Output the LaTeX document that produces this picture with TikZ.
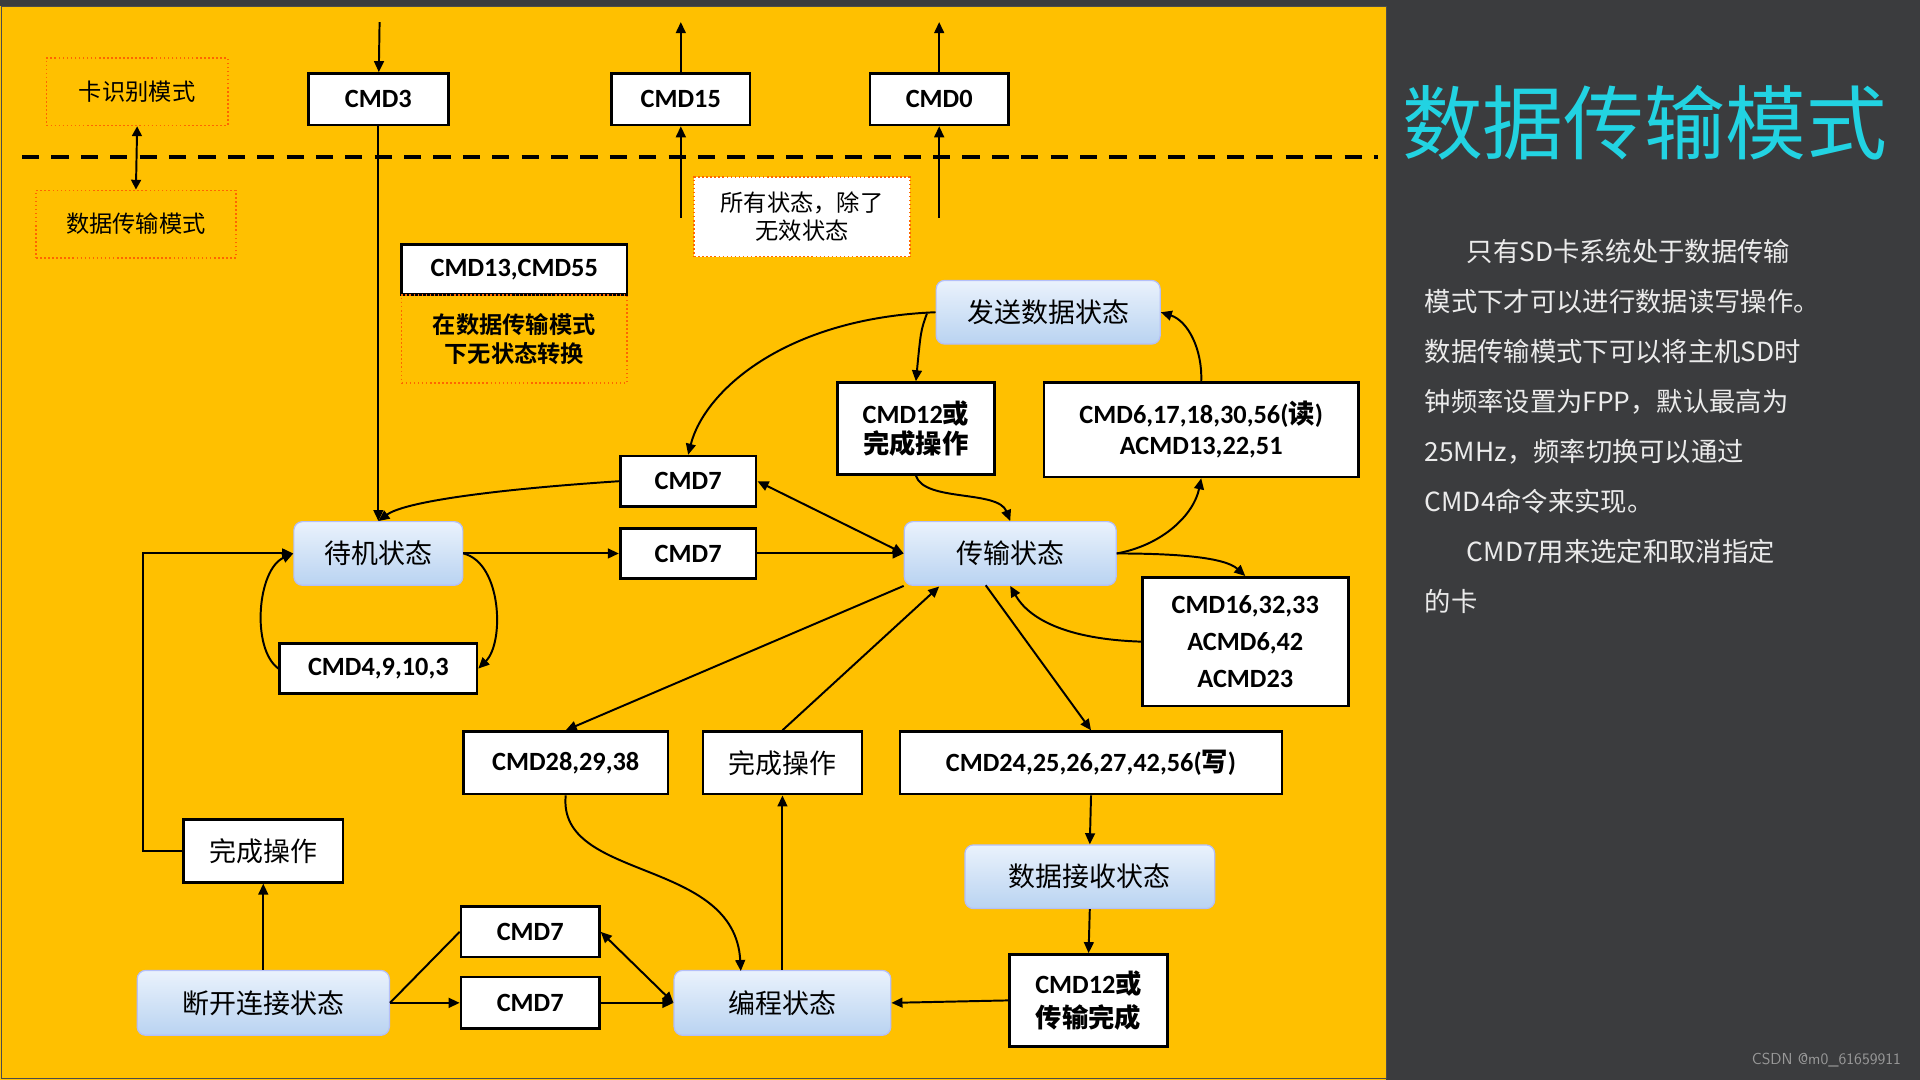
\documentclass[tikz,border=0pt]{standalone}
\usepackage{fontspec}
\setmainfont{Carlito}
\newfontfamily\cjk{Noto Sans CJK SC}
\newfontfamily\cjkb{Noto Sans CJK SC Bold}
\usetikzlibrary{arrows.meta}
\definecolor{bgor}{HTML}{FFC000}
\definecolor{panel}{HTML}{3B3C3E}
\definecolor{stA}{HTML}{EAF2FC}
\definecolor{stB}{HTML}{B9D3F1}
\definecolor{ttl}{HTML}{22D3E2}
\begin{document}
\begin{tikzpicture}[x=1pt,y=-1pt,
 box/.style={draw,line width=2.2pt,fill=white,inner sep=0pt,align=center,font=\fontsize{21.5}{25}\selectfont\bfseries},
 st/.style={draw=stB!70!blue!60,line width=1pt,rounded corners=7pt,top color=stA,bottom color=stB,inner sep=0pt,align=center,font=\fontsize{22}{26}\selectfont\cjk},
 dot/.style={draw=orange!80!red,dotted,line width=1.3pt,inner sep=0pt,align=center,font=\fontsize{19}{23}\selectfont\cjk},
 ar/.style={line width=1.6pt,-{Triangle[length=9pt,width=8pt]}},
 ln/.style={line width=1.6pt}]
\fill[panel] (0,0) rectangle (1568,882);
\fill[bgor] (0,5) rectangle (1132,882);
\draw[black!70,line width=1pt] (1,5) rectangle (1132,881);
\draw[line width=3pt,dash pattern=on 14pt off 10pt] (18,128) -- (1125,128);
\node[dot,minimum width=148,minimum height=55] (k1) at (112,75) {卡识别模式};
\node[dot,minimum width=163,minimum height=55] (k2) at (111,183) {数据传输模式};
\draw[line width=1.6pt,{Triangle[length=8pt,width=8pt]}-{Triangle[length=8pt,width=8pt]}] (k1.south) -- (k2.north);
\node[box,minimum width=114,minimum height=42] (c3) at (309,81) {CMD3};
\node[box,minimum width=113,minimum height=42] (c15) at (556,81) {CMD15};
\node[box,minimum width=113,minimum height=42] (c0) at (767,81) {CMD0};
\node[dot,fill=white,minimum width=176,minimum height=65] (all) at (655,177) {所有状态，除了\\无效状态};
\node[box,minimum width=184,minimum height=41] (c1355) at (420,220) {CMD13,CMD55};
\node[dot,minimum width=184,minimum height=72,font=\fontsize{19}{23}\selectfont\cjkb] (nx) at (420,277) {在数据传输模式\\下无状态转换};
\coordinate (t3) at (310,18); \coordinate (t15) at (556,18); \coordinate (t0) at (767,18);
\coordinate (b15) at (556,178); \coordinate (b0) at (767,178);
\draw[ar] (t3) -- (c3); \draw[ar] (c15) -- (t15); \draw[ar] (c0) -- (t0);
\draw[ar] (b15) -- (c15); \draw[ar] (b0) -- (c0);
% states
\node[st,minimum width=183,minimum height=52] (send) at (856,255) {发送数据状态};
\node[st,minimum width=138,minimum height=52] (idle) at (309,452) {待机状态};
\node[st,minimum width=173,minimum height=52] (tran) at (825,452) {传输状态};
\node[st,minimum width=204,minimum height=52] (recv) at (890,716) {数据接收状态};
\node[st,minimum width=206,minimum height=53] (dis) at (215,819) {断开连接状态};
\node[st,minimum width=177,minimum height=53] (prg) at (639,819) {编程状态};
\draw[ar] (c3.south) -- (idle.north);
% command boxes
\node[box,minimum width=128,minimum height=75] (c12a) at (748,350) {CMD12{\cjkb 或}\\{\cjkb 完成操作}};
\node[box,minimum width=257,minimum height=77] (c6) at (981,351) {CMD6,17,18,30,56({\cjkb 读})\\ACMD13,22,51};
\node[box,minimum width=111,minimum height=41] (c7a) at (562,393) {CMD7};
\node[box,minimum width=111,minimum height=41] (c7b) at (562,452) {CMD7};
\node[box,minimum width=161,minimum height=41] (c4) at (309,546) {CMD4,9,10,3};
\node[box,minimum width=168,minimum height=105,font=\fontsize{21.5}{30}\selectfont\bfseries] (c16) at (1017,524) {CMD16,32,33\\ACMD6,42\\ACMD23};
\node[box,minimum width=167,minimum height=51] (c28) at (462,623) {CMD28,29,38};
\node[box,minimum width=130,minimum height=51,font=\fontsize{22}{26}\selectfont\cjk] (done1) at (639,623) {完成操作};
\node[box,minimum width=312,minimum height=51] (c24) at (891,623) {CMD24,25,26,27,42,56({\cjkb 写})};
\node[box,minimum width=130,minimum height=51,font=\fontsize{22}{26}\selectfont\cjk] (done2) at (215,695) {完成操作};
\node[box,minimum width=113,minimum height=41] (c7c) at (433,761) {CMD7};
\node[box,minimum width=113,minimum height=42] (c7d) at (433,819) {CMD7};
\node[box,minimum width=129,minimum height=75,font=\fontsize{21.5}{28}\selectfont\bfseries] (c12b) at (889,817) {CMD12{\cjkb 或}\\{\cjkb 传输完成}};
% anchor points
\coordinate (sw) at (757,256);
\coordinate (ts) at (805,478);
\coordinate (tsl) at (767,479);
\coordinate (pn) at (605,793);
% connectors
\draw[ar] (send.west) .. controls (640,260) and (575,320) .. (c7a.north);
\draw[ar] (sw) .. controls (752,270) .. (c12a.north);
\draw[ar] (c12a.south) .. controls (755,410) and (815,400) .. (tran.north);
\draw[ar] (tran.east) .. controls (950,445) and (975,420) .. (c6.south);
\draw[ar] (c6.north) .. controls (982,285) and (970,262) .. (send.east);
\draw[line width=1.6pt,{Triangle[length=9pt,width=8pt]}-{Triangle[length=9pt,width=8pt]}] (c7a.east) -- (tran.west);
\draw[ar] (c7a.west) .. controls (400,400) and (330,410) .. (idle.north);
\draw[ar] (idle.east) -- (c7b.west); \draw[ar] (c7b.east) -- (tran.west);
\draw[ar] (idle.east) .. controls (410,460) and (412,525) .. (c4.east);
\draw[ar] (c4.west) .. controls (205,530) and (210,465) .. (idle.west);
\draw[ar] (tran.east) .. controls (960,452) and (1000,455) .. (c16.north);
\draw[ar] (c16.west) .. controls (870,522) and (840,505) .. (tran.south);
\draw[ar] (ts) -- (c24.north);
\draw[ar] (tran.south west) -- (c28.north);
\draw[ar] (done1.north) -- (tsl);
\draw[ar] (c28.south) .. controls (455,720) and (600,700) .. (pn);
\draw[ar] (prg.north) -- (done1.south);
\draw[ar] (c24.south) -- (recv.north);
\draw[ar] (recv.south) -- (c12b.north);
\draw[ar] (c12b.west) -- (prg.east);
\draw[ar] (dis.east) -- (c7d.west); \draw[ar] (c7d.east) -- (prg.west);
\draw[line width=1.6pt,{Triangle[length=9pt,width=8pt]}-{Triangle[length=9pt,width=8pt]}] (prg.west) -- (c7c.east);
\draw[ln] (dis.east) -- (c7c.west);
\draw[ar] (dis.north) -- (done2.south);
\draw[ar] (done2.west) -- (117,695) -- (117,452) -- (idle.west);
% right panel
\node[text=ttl,font=\fontsize{66}{70}\selectfont\cjk] (title) at (1343,100) {数据传输模式};
\node[text=white!92!black,anchor=north west,align=left,font=\fontsize{21.5}{40.8}\selectfont\cjk] (para) at (1160,192) {\hspace{1.6em}只有SD卡系统处于数据传输\\模式下才可以进行数据读写操作。\\数据传输模式下可以将主机SD时\\钟频率设置为FPP，默认最高为\\25MHz，频率切换可以通过\\CMD4命令来实现。\\\hspace{1.6em}CMD7用来选定和取消指定\\的卡};
\node[text=gray!80,anchor=east,font=\fontsize{13}{15}\selectfont\sffamily] (csdn) at (1556,866) {CSDN @m0\_61659911};
\end{tikzpicture}
\end{document}
